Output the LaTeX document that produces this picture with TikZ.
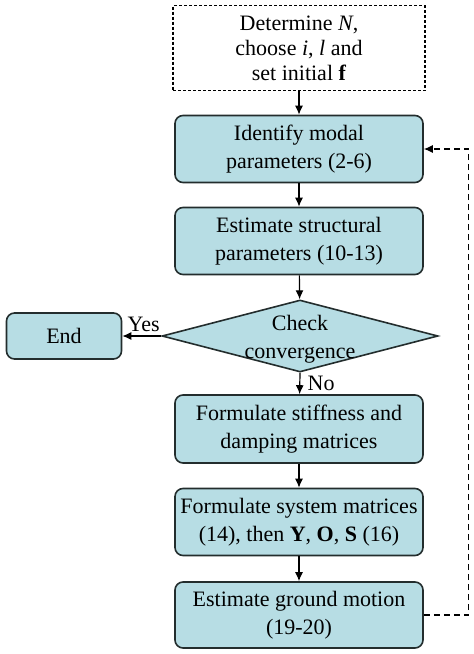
\documentclass[tikz,border=0pt]{standalone}
\usepackage{fontspec}
\setmainfont{Liberation Serif}
\usetikzlibrary{positioning,shapes.geometric,arrows.meta}
\definecolor{boxfill}{RGB}{183,221,228}
\definecolor{boxline}{RGB}{35,45,45}

\begin{document}
\begin{tikzpicture}[x=1pt,y=-1pt,
    txt/.style={font=\fontsize{22}{28}\selectfont, align=center},
    stepbox/.style={txt, draw=boxline, fill=boxfill, line width=1.6pt,
      rounded corners=8pt, minimum width=248pt, minimum height=67pt, inner sep=0pt},
    startbox/.style={txt, font=\fontsize{22}{25}\selectfont, draw, dash pattern=on 3pt off 2pt,
      line width=1.1pt, minimum width=252pt, minimum height=85pt, inner sep=0pt},
    decide/.style={diamond, draw=boxline, fill=boxfill, line width=1.6pt,
      minimum width=276pt, minimum height=72pt, inner sep=0pt},
    flow/.style={line width=1.2pt, -{Latex[length=9pt,width=8pt]}}]

  \useasboundingbox (0,0) rectangle (474,654);

  \node [startbox] (init) at (299,48) {Determine \textit{N},\\choose \textit{i}, \textit{l} and\\set initial \textbf{f}};

  \node [stepbox] (modal) at (299,149) {Identify modal\\parameters (2-6)};
  \node [stepbox] (struct) at (299,241) {Estimate structural\\parameters (10-13)};

  %%

  \node [decide] (check) at (300,336) {};
  \node [txt] (checktxt) at ([yshift=-3pt]check) {Check\\convergence};

  \node [stepbox, minimum width=115pt, minimum height=46pt] (fin) at (64,336) {End};

  %%

  \node [stepbox, minimum height=68pt] (stiff) at (299,429) {Formulate stiffness and\\damping matrices};
  \node [stepbox] (sysmat) at (299,522) {Formulate system matrices\\(14), then \textbf{Y}, \textbf{O}, \textbf{S} (16)};
  \node [stepbox, minimum height=66pt] (ground) at (299,615) {Estimate ground motion\\(19-20)};

  %%

  \draw[flow] (init) to (modal);
  \draw[flow] (modal) to (struct);
  \draw[flow] (struct) to (check);
  \draw[flow] (check.west) to node [txt, above, xshift=2pt] {Yes} (fin);
  \draw[flow] (check.south) to node [txt, right, xshift=4pt] {No} (stiff);
  \draw[flow] (stiff) to (sysmat);
  \draw[flow] (sysmat) to (ground);

  \draw[flow, dash pattern=on 6pt off 4pt] (ground.east) -- ++(45,0) |- (modal.east);

\end{tikzpicture}
\end{document}
